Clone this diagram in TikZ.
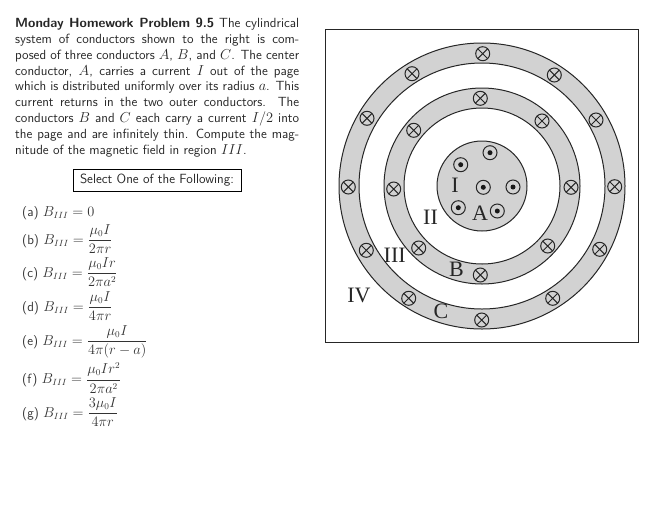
\documentclass[tikz,border=0pt]{standalone}
\usepackage{amsmath}
\usepackage{fontspec}
\newfontfamily\figfont{Liberation Serif}
\tikzset{disque/.style = {circle, draw=black!85, line width=1pt, inner sep=0pt, outer sep=0pt, minimum size=#1},
         entrant/.style = {circle, draw=black!85, line width=1pt, inner sep=0pt, minimum size=14pt, fill=lightgray!70,
                           path picture={\draw[black!85, line width=1pt]
                                         (path picture bounding box.north west) -- (path picture bounding box.south east)
                                         (path picture bounding box.north east) -- (path picture bounding box.south west);}},
         sortant/.style = {circle, draw=black!85, line width=1pt, inner sep=0pt, minimum size=14pt, fill=lightgray!70,
                           path picture={\fill[black!90] (path picture bounding box.center) circle (2.5pt);}},
         region/.style = {font=\figfont\fontsize{22}{22}\selectfont, text=black!85, inner sep=0pt},
         reponse/.style = {anchor=base west, inner sep=0pt, font=\sffamily\fontsize{13.3}{15.8}\selectfont, text=black!80}
        }
\begin{document}
\begin{tikzpicture}[x=1pt, y=-1pt]
\useasboundingbox (0,0) rectangle (664,504);
% figure
\node[draw=black!85, line width=1.2pt, minimum width=313.5pt, minimum height=313.5pt, outer sep=0pt] (cadre) at (482,186) {};
\node[disque=286pt, fill=lightgray!70] (C) at (482,186) {};
\node[disque=246pt, fill=white] (Cint) at (482,186) {};
\node[disque=196pt, fill=lightgray!70] (B) at (482,186) {};
\node[disque=156pt, fill=white] (Bint) at (482,186) {};
\node[disque=90pt, fill=lightgray!70] (A) at (482,186) {};
% conducteur C
\node[entrant] (c1) at (482.7,53.7) {};
\node[entrant] (c2) at (412,73.7) {};
\node[entrant] (c3) at (554.3,75) {};
\node[entrant] (c4) at (367,118.3) {};
\node[entrant] (c5) at (596,120) {};
\node[entrant] (c6) at (348.3,187) {};
\node[entrant] (c7) at (614.7,186.7) {};
\node[entrant] (c8) at (366.3,250.3) {};
\node[entrant] (c9) at (599.7,249.3) {};
\node[entrant] (c10) at (408.7,298.3) {};
\node[entrant] (c11) at (552.7,298.3) {};
\node[entrant] (c12) at (481.7,320) {};
% conducteur B
\node[entrant] (b1) at (480.3,98.3) {};
\node[entrant] (b2) at (413.7,130.3) {};
\node[entrant] (b3) at (542,121) {};
\node[entrant] (b4) at (393.7,189) {};
\node[entrant] (b5) at (571,187.3) {};
\node[entrant] (b6) at (418.7,248) {};
\node[entrant] (b7) at (547.7,246) {};
\node[entrant] (b8) at (480.3,275) {};
% conducteur A
\node[sortant] (a1) at (490,152.7) {};
\node[sortant] (a2) at (460.7,164.7) {};
\node[sortant] (a3) at (483.3,187.3) {};
\node[sortant] (a4) at (513,187) {};
\node[sortant] (a5) at (458.3,207.7) {};
\node[sortant] (a6) at (497.3,211) {};
% regions
\node[region] (rI) at (455,185) {I};
\node[region] (rII) at (430.5,217) {II};
\node[region] (rIII) at (394.7,255) {III};
\node[region] (rIV) at (359,295) {IV};
\node[region] (lA) at (480,213.5) {A};
\node[region] (lB) at (456.5,269) {B};
\node[region] (lC) at (441,311.5) {C};
% enonce
\node[anchor=base west, inner sep=0pt, text width=284pt, align=justify, text=black!85,
      font=\sffamily\fontsize{13.3}{15.8}\selectfont] (enonce) at (15,27.7)
 {\textbf{Monday Homework Problem 9.5} The cylindrical\linebreak
  system of conductors shown to the right is com-\linebreak
  posed of three conductors $A$, $B$, and $C$. The center\linebreak
  conductor, $A$, carries a current $I$ out of the page\linebreak
  which is distributed uniformly over its radius $a$. This\linebreak
  current returns in the two outer conductors. The\linebreak
  conductors $B$ and $C$ each carry a current $I/2$ into\linebreak
  the page and are infinitely thin. Compute the mag-\linebreak
  nitude of the magnetic field in region $III$.};
\node[draw=black, line width=1pt, minimum width=168pt, minimum height=22pt, inner sep=0pt, text=black!85,
      font=\sffamily\fontsize{13.3}{15.8}\selectfont] (choix) at (157,180) {Select One of the Following:};
% reponses
\node[reponse] (ra) at (22,216.5) {(a) $B_{III}=0$};
\node[reponse] (rb) at (22,244) {(b) $B_{III}=\dfrac{\mu_0 I}{2\pi r}$};
\node[reponse] (rc) at (22,277) {(c) $B_{III}=\dfrac{\mu_0 I r}{2\pi a^2}$};
\node[reponse] (rd) at (22,311) {(d) $B_{III}=\dfrac{\mu_0 I}{4\pi r}$};
\node[reponse] (re) at (22,345) {(e) $B_{III}=\dfrac{\mu_0 I}{4\pi(r-a)}$};
\node[reponse] (rf) at (22,383.5) {(f) $B_{III}=\dfrac{\mu_0 I r^2}{2\pi a^2}$};
\node[reponse] (rg) at (22,417) {(g) $B_{III}=\dfrac{3\mu_0 I}{4\pi r}$};
\end{tikzpicture}
\end{document}
